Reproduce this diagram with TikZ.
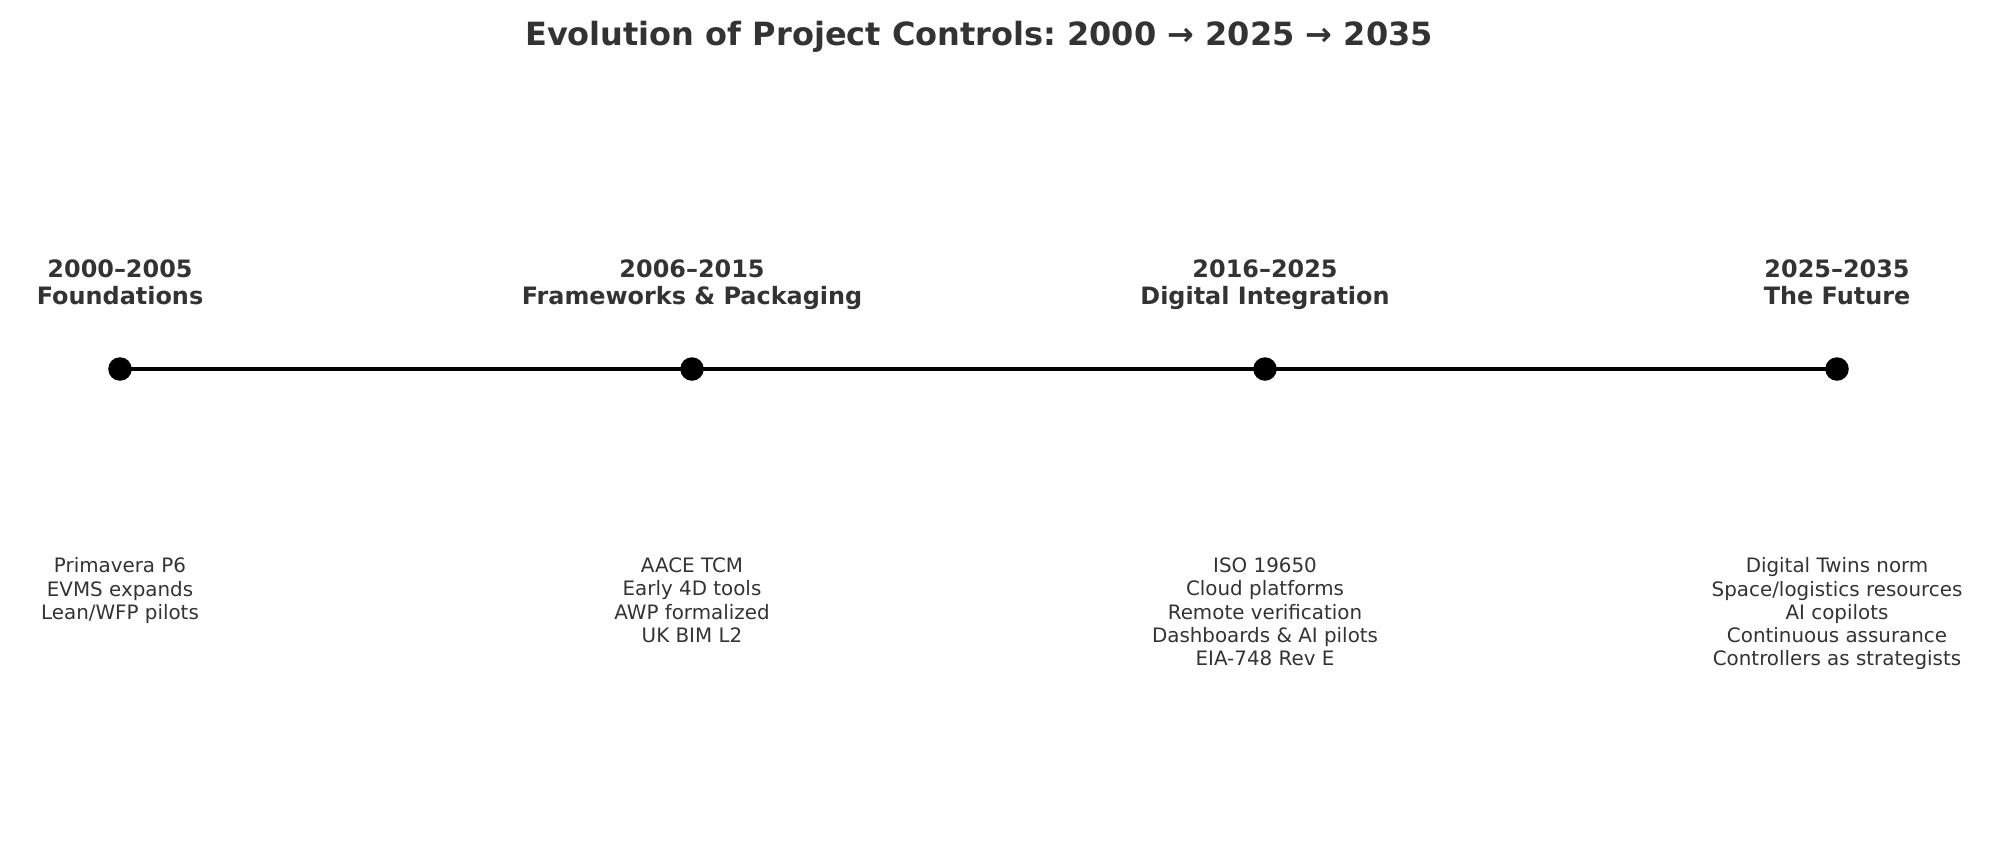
\documentclass[tikz,border=0pt]{standalone}
\usepackage{fontspec}
\setmainfont{DejaVu Sans}
\frenchspacing
\pgfdeclarelayer{edgelayer}
\pgfdeclarelayer{nodelayer}
\pgfsetlayers{edgelayer,nodelayer,main}
\definecolor{txtgray}{HTML}{333333}
\tikzset{
  dot/.style={circle,fill=black,inner sep=0pt,minimum size=0.235cm},
  era/.style={align=center,text=txtgray,font=\fontsize{6.8pt}{7.65pt}\selectfont\bfseries,inner sep=0pt,anchor=north},
  items/.style={align=center,text=txtgray,font=\fontsize{5.65pt}{6.62pt}\selectfont,inner sep=0pt,anchor=north},
}

\begin{document}
\begin{tikzpicture}[x=0.01cm,y=-0.01cm]
  \useasboundingbox (0,0) rectangle (2000,857);
  % title
	\node [text=txtgray,font=\fontsize{9.1pt}{11pt}\selectfont\bfseries] (title) at (979, 37) {Evolution of Project Controls: 2000 → 2025 → 2035};
  % nodes
	\node [dot] (d0) at (120, 369) {};
	\node [dot] (d1) at (692, 369) {};
	\node [dot] (d2) at (1265, 369) {};
	\node [dot] (d3) at (1837, 369) {};
	%% eras
	\node [era] (e0) at (120, 259) {2000–2005\\Foundations};
	\node [era] (e1) at (692, 259) {2006–2015\\Frameworks \& Packaging};
	\node [era] (e2) at (1265, 259) {2016–2025\\Digital Integration};
	\node [era] (e3) at (1837, 259) {2025–2035\\The Future};
	%% items
	\node [items] (i0) at (120, 557) {Primavera P6\\EVMS expands\\Lean/WFP pilots};
	\node [items] (i1) at (692, 557) {AACE TCM\\Early 4D tools\\AWP formalized\\UK BIM L2};
	\node [items] (i2) at (1265, 557) {ISO 19650\\Cloud platforms\\Remote verification\\Dashboards \& AI pilots\\EIA-748 Rev E};
	\node [items] (i3) at (1837, 557) {Digital Twins norm\\Space/logistics resources\\AI copilots\\Continuous assurance\\Controllers as strategists};
	% edges
	\begin{pgfonlayer}{edgelayer}
	\draw [line width=1.1pt] (d0.center) to (d1.center);
	\draw [line width=1.1pt] (d1.center) to (d2.center);
	\draw [line width=1.1pt] (d2.center) to (d3.center);
	\end{pgfonlayer}
\end{tikzpicture}
\end{document}
